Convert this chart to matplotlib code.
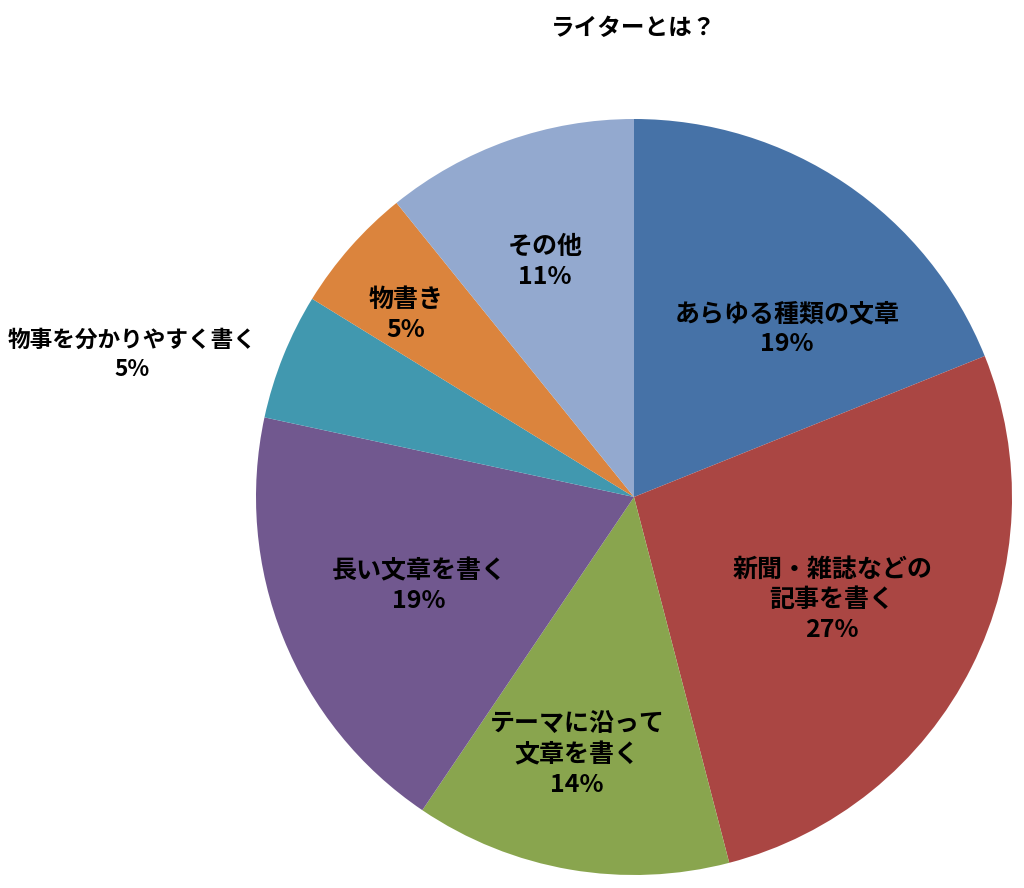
import matplotlib
matplotlib.use('Agg')
import matplotlib.pyplot as plt

plt.rcParams['font.family'] = ['Noto Sans CJK JP', 'DejaVu Sans']

# counts (7/37 = 19%, 10/37 = 27% ...)
categories = ['あらゆる種類の文章', '新聞・雑誌などの\n記事を書く', 'テーマに沿って\n文章を書く',
              '長い文章を書く', '物事を分かりやすく書く', '物書き', 'その他']
counts = [7, 10, 5, 7, 2, 2, 4]
colors = ['#4672A7', '#AA4643', '#89A54E', '#71588F', '#4198AF', '#DB843D', '#93A9CF']

# label centres in pie units (radius 1) and font sizes
label_pos = [(0.405, 0.444), (0.524, -0.272), (-0.151, -0.683), (-0.569, -0.235),
             (-1.328, 0.376), (-0.603, 0.481), (-0.235, 0.622)]
label_size = [18, 18, 18, 18, 16.3, 18, 18]

fig = plt.figure(figsize=(10.24, 8.88), dpi=100)
ax = fig.add_axes([256 / 1024, 13 / 888, 756 / 1024, 756 / 888])

ax.pie(counts, colors=colors, startangle=90, counterclock=False, radius=1,
       wedgeprops=dict(linewidth=0))
ax.set_xlim(-1, 1)
ax.set_ylim(-1, 1)
ax.set_aspect('equal')
ax.axis('off')

total = sum(counts)
for name, c, (x, y), fs in zip(categories, counts, label_pos, label_size):
    pct = round(100 * c / total)
    ax.text(x, y, f'{name}\n{pct}%', ha='center', va='center', fontsize=fs,
            fontweight='bold', linespacing=1.3, color='black')

fig.text(634 / 1024, 1 - 28 / 888, 'ライターとは？', ha='center', va='center',
         fontsize=17, fontweight='bold')

fig.savefig('out.png', dpi=100)
